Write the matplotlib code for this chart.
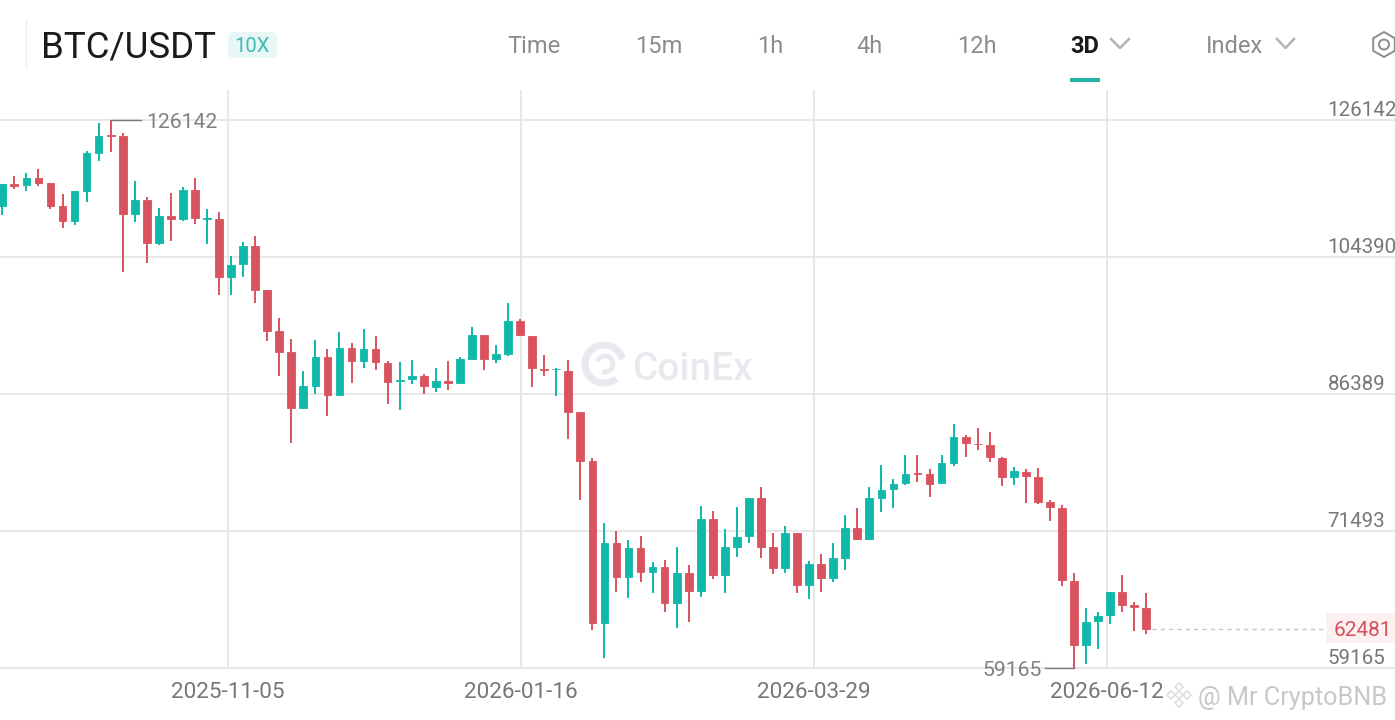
import matplotlib
matplotlib.use('Agg')
import matplotlib.pyplot as plt
from matplotlib.patches import Arc, FancyBboxPatch, Rectangle, RegularPolygon, Circle

plt.rcParams['font.family'] = ['Roboto', 'DejaVu Sans']

# 3D candles, oldest first
opens = [112057, 115420, 115308, 116429, 115675, 112011, 109714, 114356, 120570, 123555, 123384, 110734, 112990, 106385, 110520, 110017,
         114514, 110093, 110063, 101588, 103386, 105989, 99738, 94246, 91551, 84770, 87386, 90883, 86270, 92020, 90457, 91969,
         90207, 87919, 88162, 88565, 87265, 87919, 87676, 90670, 93726, 90670, 91336, 95517, 93636, 89463, 89364, 89179,
         84233, 78752, 62934, 70318, 67091, 69805, 67556, 68024, 64697, 67463, 65779, 72658, 67304, 69959, 71001, 74828,
         69901, 67902, 71325, 66381, 68278, 66971, 68875, 71760, 70737, 74828, 75733, 76363, 77457, 77350, 76363, 78535,
         81407, 80657, 80479, 79112, 77031, 77597, 77062, 74446, 73832, 66749, 61075, 63108, 63633, 65715, 64519, 64252]
highs = [115468, 116751, 117187, 117837, 115675, 113883, 114309, 120904, 125672, 126142, 123845, 115947, 113459, 111656, 113994, 114942,
         116381, 111548, 111132, 104535, 106621, 107508, 99738, 95993, 93171, 89216, 93081, 91931, 94077, 92658, 94546, 93597,
         90457, 90332, 90544, 88847, 89512, 90382, 90883, 94807, 93726, 92479, 97922, 95821, 93636, 91172, 89512, 90544,
         84233, 79112, 72288, 71463, 70580, 70971, 68467, 68685, 69959, 68212, 74005, 73465, 71721, 73873, 74859, 75942,
         71296, 71959, 71325, 68562, 69257, 70318, 73091, 73771, 75974, 78286, 76818, 79408, 79441, 77854, 79408, 82848,
         81632, 82426, 81971, 79221, 78135, 77854, 78027, 74590, 74138, 67435, 64252, 63924, 65742, 67277, 64786, 65597]
lows = [110627, 114673, 114404, 115149, 111501, 108703, 109109, 112678, 119245, 120637, 102207, 109608, 103572, 106136, 106679, 109759,
        109260, 106282, 99011, 99011, 101504, 98003, 92991, 88602, 80702, 84700, 86354, 83838, 86270, 87749, 89512, 89302,
        85204, 84501, 87628, 86390, 86665, 86868, 87592, 90670, 89302, 90207, 91084, 93726, 87265, 88528, 86116, 81149,
        74621, 62354, 60013, 65742, 65145, 66602, 65651, 63924, 62527, 63047, 65290, 66906, 65651, 68999, 70347, 68847,
        67370, 67491, 65597, 65056, 65742, 66657, 67771, 70580, 70610, 73394, 73771, 76184, 76532, 74962, 76363, 78243,
        79221, 79958, 78676, 76079, 76184, 74344, 74241, 72518, 66289, 59165, 59493, 60739, 62873, 63924, 62294, 62010]
closes = [115420, 115197, 116429, 115675, 112057, 109714, 114309, 120470, 123384, 123435, 110734, 112990, 106473, 110520, 110063, 114514,
          110124, 110169, 101588, 103286, 105989, 99738, 94246, 91551, 84770, 87350, 90883, 86270, 92020, 90457, 91969, 90257,
          87870, 88077, 88528, 87314, 87919, 87676, 90670, 93726, 90670, 91260, 95517, 93726, 89512, 89302, 89426, 84303,
          78785, 62934, 70318, 67091, 69805, 67556, 68024, 64697, 67435, 65779, 72658, 67277, 69901, 70932, 74859, 69930,
          67902, 71296, 66381, 68278, 66971, 68847, 71760, 70737, 74797, 75659, 76321, 77383, 77383, 76321, 78502, 81407,
          80702, 80590, 79156, 77031, 77640, 77105, 74446, 73903, 66813, 61075, 63073, 63572, 65742, 64545, 64340, 62481]

price_ticks = [59165, 71493, 86389, 104390, 126142]
date_ticks = [18.74, 43.07, 67.4, 91.73]
date_labels = ['2025-11-05', '2026-01-16', '2026-03-29', '2026-06-12']
tabs = ['Time', '15m', '1h', '4h', '12h']
tab_x = [507, 635, 757, 856, 957]

RED = '#d9535e'
TEAL = '#0fb8a9'
GRID = '#e6e6e6'
GRAY = '#808080'

fig = plt.figure(figsize=(13.95, 7.2), dpi=100)

# chart area, y 90..668 px
ax = fig.add_axes([0, (720 - 668) / 720, 1, (668 - 90) / 720])
ax.set_yscale('log')
ax.set_ylim(59165, 131480)
ax.set_xlim(-2.3 / 12.042, (1395 - 2.3) / 12.042)
ax.set_axisbelow(True)
for s in ['top', 'left', 'right']:
    ax.spines[s].set_visible(False)
ax.spines['bottom'].set_color(GRID)
ax.spines['bottom'].set_linewidth(1.3)
ax.grid(True, color=GRID, linewidth=1.3)

ax.set_xticks(date_ticks)
ax.set_xticklabels(date_labels)
ax.tick_params(axis='x', length=0, pad=10, labelsize=16.2, labelcolor='#777777')
ax.yaxis.tick_right()
ax.set_yticks(price_ticks)
ax.set_yticklabels([str(v) for v in price_ticks], va='bottom')
ax.tick_params(axis='y', length=0, pad=-48.5, labelsize=14.8, labelcolor='#777777')
ax.minorticks_off()

idx = list(range(len(opens)))
colors = [TEAL if c >= o else RED for o, c in zip(opens, closes)]
ax.vlines(idx, lows, highs, colors=colors, linewidth=1.4, zorder=3)
ax.bar(idx, [abs(c - o) for o, c in zip(opens, closes)], bottom=[min(o, c) for o, c in zip(opens, closes)],
       width=0.64, color=colors, edgecolor=colors, linewidth=0.6, zorder=4)

# high / low markers
hi = highs.index(max(highs))
lo = lows.index(min(lows))
ax.plot([hi, 11.52], [max(highs)] * 2, color='#777777', linewidth=1, zorder=5, clip_on=False)
ax.text(11.99, max(highs), str(max(highs)), color=GRAY, fontsize=15.2, va='center_baseline', ha='left')
ax.plot([86.6, lo], [min(lows)] * 2, color='#777777', linewidth=1, zorder=5, clip_on=False)
ax.text(86.3, min(lows), str(min(lows)), color=GRAY, fontsize=15.2, va='center_baseline', ha='right', clip_on=False)

# last price
ax.plot([95.5, 109.9], [closes[-1]] * 2, color='#c4c4c4', linewidth=1, dashes=(3, 3), zorder=2)

# overlay in image pixels for the app chrome
ov = fig.add_axes([0, 0, 1, 1], zorder=10)
ov.set_xlim(0, 1395)
ov.set_ylim(720, 0)
ov.axis('off')
ov.patch.set_alpha(0)

ov.plot([25.5, 25.5], [20, 68], color='#efefef', linewidth=1)
ov.text(41, 44, 'BTC/USDT', fontsize=26.4, color='#1a1a1a', va='center_baseline', ha='left')
ov.add_patch(FancyBboxPatch((232, 36), 41, 18, boxstyle='round,pad=4,rounding_size=6', facecolor='#e6f7f6', edgecolor='none'))
ov.text(252.5, 45, '10X', fontsize=14.5, color='#3fbcb3', va='center_baseline', ha='center')

for name, x in zip(tabs, tab_x):
    ov.text(x, 44, name, fontsize=17, color='#8c8c8c', va='center_baseline', ha='left')
ov.text(1070, 44, '3D', fontsize=17, color='#1a1a1a', fontweight='bold', va='center_baseline', ha='left')
ov.text(1206, 44, 'Index', fontsize=17, color='#8c8c8c', va='center_baseline', ha='left')
ov.plot([1111, 1120, 1129], [39, 48, 39], color='#b4b4b4', linewidth=1.8)
ov.plot([1277, 1285.5, 1294], [39, 48, 39], color='#b4b4b4', linewidth=1.8)
ov.add_patch(Rectangle((1070, 78), 30, 4, facecolor='#22b5a6', edgecolor='none'))
ov.add_patch(RegularPolygon((1384, 44.5), 6, radius=12.5, facecolor='none', edgecolor='#8c8c8c', linewidth=1.4))
ov.add_patch(Circle((1384, 44.5), 5, facecolor='none', edgecolor='#8c8c8c', linewidth=1.4))

# coinex watermark
ov.add_patch(Arc((604, 364), 38, 38, theta1=50, theta2=345, color='#e8e9ee', linewidth=5))
ov.add_patch(Arc((605, 364), 16, 16, theta1=200, theta2=110, color='#e8e9ee', linewidth=3.5))
ov.text(632, 366, 'CoinEx', fontsize=28, color='#e8e9ee', fontweight='medium', va='center_baseline', ha='left')

# last price tag
ov.add_patch(Rectangle((1326, 613), 69, 30, facecolor='#fdf0f0', edgecolor='none'))
ov.text(1334, 628, str(closes[-1]), fontsize=15, color='#d4525c', va='center_baseline', ha='left')

# bottom watermark
for cx, cy, r in [(1179, 687, 4), (1179, 703, 4), (1171, 695, 4), (1187, 695, 4), (1179, 695, 4)]:
    ov.add_patch(RegularPolygon((cx, cy), 4, radius=r, facecolor='none', edgecolor='#dedede', linewidth=1.2))
ov.text(1198, 695, '@ Mr CryptoBNB', fontsize=18.2, color='#c8c8c8', va='center_baseline', ha='left')

fig.savefig('out.png', dpi=100)
